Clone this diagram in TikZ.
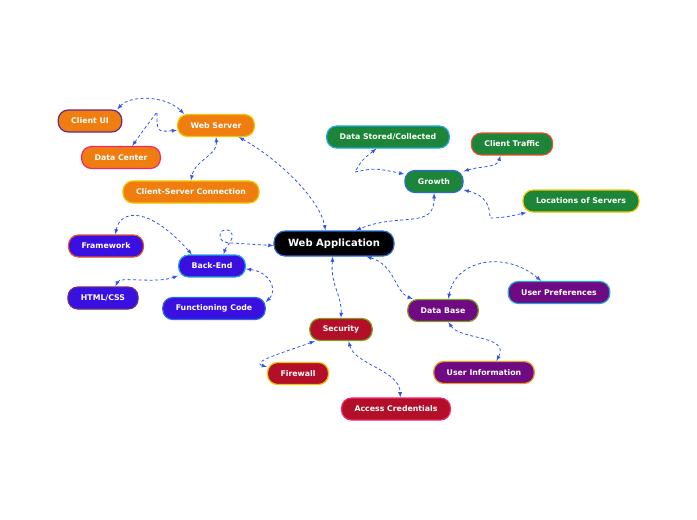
\documentclass[tikz,border=0pt]{standalone}
\usepackage{fontspec}
\setmainfont{DejaVu Sans}
\usepackage{tikz}
\usetikzlibrary{positioning,shapes}
\definecolor{cOrange}{HTML}{F07D0F}
\definecolor{cGreen}{HTML}{1C8538}
\definecolor{cBlue}{HTML}{3A10E0}
\definecolor{cRed}{HTML}{B40F28}
\definecolor{cPurple}{HTML}{6E0A82}
\definecolor{bPurple}{HTML}{6A2A80}
\definecolor{bYellow}{HTML}{F5C400}
\definecolor{bPink}{HTML}{F0266E}
\definecolor{bCyan}{HTML}{1EA8E0}
\definecolor{bRed}{HTML}{E6502D}
\definecolor{bBlue}{HTML}{2A6BE0}
\definecolor{bOlive}{HTML}{7FA21E}
\definecolor{bOrange}{HTML}{F29A1E}
\definecolor{link}{HTML}{2F55F0}

\begin{document}
\begin{tikzpicture}[x=1pt, y=-1pt, latex-latex, semithick,
        link/.style = {draw=link, line width=0.8pt, dash pattern=on 3pt off 2.5pt},
        sub/.style 2 args = {fill=#1, draw=#2, line width=1.2pt, rounded corners=10pt,
            text=white, font=\fontsize{7.8}{9}\selectfont\bfseries,
            minimum height=22pt, inner xsep=13pt},
        main/.style = {sub={black}{bBlue}, font=\fontsize{10}{11}\selectfont\bfseries,
            minimum height=25pt, inner xsep=14pt, rounded corners=11pt}]
    \useasboundingbox (0,0) rectangle (697,520);
    % centre
    \node[main] (app) at (334,243.5) {Web Application};
    % web server branch
    \node[sub={cOrange}{bYellow}] (ws) at (216,125.5) {Web Server};
    \node[sub={cOrange}{bPurple}] (cui) at (90,121) {Client UI};
    \node[sub={cOrange}{bPink}] (dc) at (121,157.5) {Data Center};
    \node[sub={cOrange}{bYellow}] (csc) at (191,192) {Client-Server Connection};
    % growth branch
    \node[sub={cGreen}{bBlue}] (gr) at (434,181.5) {Growth};
    \node[sub={cGreen}{bCyan}] (dsc) at (388,137) {Data Stored/Collected};
    \node[sub={cGreen}{bRed}] (ct) at (512,144) {Client Traffic};
    \node[sub={cGreen}{bYellow}] (los) at (581,201) {Locations of Servers};
    % back-end branch
    \node[sub={cBlue}{bCyan}] (be) at (212,266) {Back-End};
    \node[sub={cBlue}{bRed}] (fw) at (106,246) {Framework};
    \node[sub={cBlue}{bPurple}] (hc) at (103,298) {HTML/CSS};
    \node[sub={cBlue}{bBlue}] (fc) at (214,308.5) {Functioning Code};
    % security branch
    \node[sub={cRed}{bOlive}] (sec) at (341,329.5) {Security};
    \node[sub={cRed}{bYellow}] (fire) at (298,373.5) {Firewall};
    \node[sub={cRed}{bPink}] (ac) at (396,409) {Access Credentials};
    % data base branch
    \node[sub={cPurple}{bOlive}] (db) at (443,310.5) {Data Base};
    \node[sub={cPurple}{bCyan}] (up) at (559,292.5) {User Preferences};
    \node[sub={cPurple}{bOrange}] (ui) at (484,372.5) {User Information};

    \draw[link] (cui.23) .. controls (130,95) and (165,95) .. (ws.160);
    \draw[link] (dc.46) .. controls (145,128) .. (157,112) .. controls (157,132) .. (ws.187);
    \draw[link] (ws.south) .. controls (218,155) and (195,160) .. (csc.north);
    \draw[link] (ws.-27) .. controls (280,160) and (320,200) .. (app.123);
    \draw[link] (dsc.-135) .. controls (362,160) .. (355,172) .. controls (375,168) .. (gr.166);
    \draw[link] (gr.19) .. controls (480,166) and (497,168) .. (ct.-135);
    \draw[link] (gr.-16) .. controls (485,195) and (490,205) .. (490,218)
        .. controls (505,218) and (515,215) .. (los.192);
    \draw[link] (gr.south) .. controls (435,230) and (400,212) .. (app.31);
    \draw[link] (be.45) .. controls (226,246) and (234,240) .. (232,234)
        .. controls (230,228) and (221,228) .. (220,235)
        .. controls (219,241) and (225,243) .. (232,243) -- (app.182);
    \draw[link] (fw.51) .. controls (120,210) and (148,205) .. (be.150);
    \draw[link] (hc.43) .. controls (120,276) and (155,284) .. (be.196);
    \draw[link] (be.-5) .. controls (270,272) and (278,290) .. (fc.7);
    \draw[link] (app.-95) .. controls (330,285) and (342,295) .. (sec.north);
    \draw[link] (app.-22) .. controls (395,265) and (395,292) .. (db.159);
    \draw[link] (sec.204) .. controls (285,352) and (250,362) .. (fire.168);
    \draw[link] (sec.-57) .. controls (355,365) and (400,370) .. (ac.70);
    \draw[link] (db.65) .. controls (455,260) and (505,250) .. (up.147);
    \draw[link] (db.-65) .. controls (460,340) and (510,335) .. (ui.43);
\end{tikzpicture}
\end{document}
